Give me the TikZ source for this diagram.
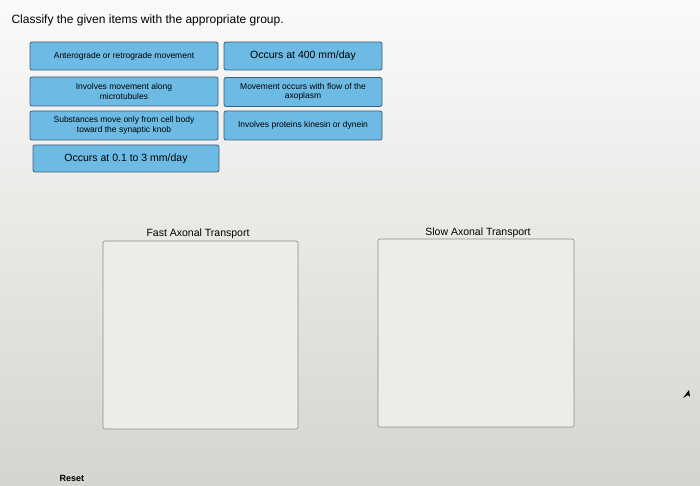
\documentclass[tikz,border=0pt]{standalone}
\usepackage{fontspec}
\setmainfont{Liberation Sans}
\definecolor{bg}{HTML}{E0DFDA}
\definecolor{tile}{HTML}{6DBBE4}
\definecolor{tileedge}{HTML}{3E5F78}
\begin{document}
\begin{tikzpicture}[x=1pt,y=-1pt,
 tilebox/.style={draw=tileedge,fill=tile,rounded corners=2pt,line width=0.8pt,align=center,inner sep=0pt},
 small/.style={font=\fontsize{8.5}{9.5}\selectfont},
 big/.style={font=\fontsize{10.5}{12}\selectfont},
 target/.style={draw=black!45,fill=bg!60!white,rounded corners=2pt,line width=0.6pt}]
\begin{scope}
\clip (0,0) rectangle (700,486);
\shade[top color=white!85!bg,bottom color=bg!95!black] (0,0) rectangle (700,486);
\node[anchor=west,font=\fontsize{12}{14}\selectfont] (title) at (8,20) {Classify the given items with the appropriate group.};
\node[tilebox,small,minimum width=188pt,minimum height=28pt] (a) at (124,56) {Anterograde or retrograde movement};
\node[tilebox,big,minimum width=158pt,minimum height=28pt] (b) at (303,56) {Occurs at 400 mm/day};
\node[tilebox,small,minimum width=188pt,minimum height=29pt] (c) at (124,91.5) {Involves movement along\\microtubules};
\node[tilebox,small,minimum width=158pt,minimum height=29pt] (d) at (303,92) {Movement occurs with flow of the\\axoplasm};
\node[tilebox,small,minimum width=188pt,minimum height=29pt] (e) at (124,125.5) {Substances move only from cell body\\toward the synaptic knob};
\node[tilebox,small,minimum width=158pt,minimum height=29pt] (f) at (303,125.5) {Involves proteins kinesin or dynein};
\node[tilebox,big,minimum width=186pt,minimum height=27pt] (g) at (126,158.5) {Occurs at 0.1 to 3 mm/day};
\node[font=\fontsize{10.5}{12}\selectfont] (fl) at (198,234) {Fast Axonal Transport};
\node[font=\fontsize{10.5}{12}\selectfont] (sl) at (478,233) {Slow Axonal Transport};
\draw[target] (103,241) rectangle (298,429);
\draw[target] (378,239) rectangle (574,427);
\node[anchor=west,font=\bfseries\fontsize{9}{10}\selectfont] (reset) at (56,478) {Reset};
\fill[black] (683,398) -- (689,390) -- (690,397) -- (688,395) -- cycle;
\end{scope}
\end{tikzpicture}
\end{document}
